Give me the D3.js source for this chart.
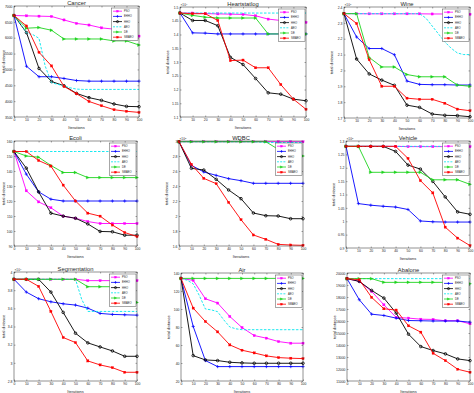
<!DOCTYPE html>
<html><head><meta charset="utf-8">
<script src="https://cdn.jsdelivr.net/npm/d3@7"></script>
<style>body{margin:0;background:#fff}svg{display:block}text{font-family:"Liberation Sans",Arial,sans-serif;fill:#262626}</style>
</head><body><svg id="c" width="474" height="393"></svg>
<script>
const iters = [0,10,20,30,40,50,60,70,80,90,100];
const itersFine = [0,5,10,15,20,25,30,35,40,45,50,55,60,65,70,75,80,85,90,95,100];
const seriesNames = ["PSO","EHHO","HHO","AEO","DE","SMAEO"];
const seriesColors = ["#ff00ff","#0000ff","#000000","#00e5ee","#1ed41e","#ff0000"];
const seriesMarkers = ["square","plus","circle","none","triangle","square"];

// Cancer
const cancerPSO = [6700,6690,6680,6670,6560,6450,6400,6310,6270,6200,6050];
const cancerEHHO = [6700,5100,4770,4770,4715,4650,4630,4630,4630,4630,4630];
const cancerHHO = [6700,6160,5030,4620,4485,4245,4110,4025,3910,3835,3825];
const cancerAEO = [6700,6450,6150,6100,5980,5100,4580,4530,4480,4420,4380,4370,4370,4370,4370,4370,4370,4370,4370,4370,4370];
const cancerDE = [6700,6300,6320,6235,5960,5960,5960,5960,5900,5900,5770];
const cancerSMAEO = [6700,6370,5540,5110,4465,4235,3990,3855,3730,3680,3645];
const cancerTicks = [3500,4000,4500,5000,5500,6000,6500,7000];
// Heartstatlog (x10^4)
const heartPSO = [1.478,1.478,1.476,1.475,1.474,1.473,1.468,1.456,1.451,1.450,1.444];
const heartEHHO = [1.478,1.406,1.405,1.402,1.402,1.402,1.402,1.402,1.402,1.402,1.402];
const heartHHO = [1.478,1.451,1.451,1.432,1.317,1.291,1.240,1.188,1.183,1.165,1.159];
const heartAEO = [1.478,1.478,1.478,1.478,1.478,1.478,1.478,1.478,1.478,1.478,1.478,1.478,1.478,1.478,1.478,1.478,1.478,1.478,1.478,1.478,1.478];
const heartDE = [1.478,1.4695,1.463,1.460,1.460,1.460,1.460,1.402,1.402,1.402,1.402];
const heartSMAEO = [1.478,1.4756,1.4756,1.451,1.305,1.307,1.279,1.279,1.218,1.165,1.128];
const heartTicks = [1.1,1.15,1.2,1.25,1.3,1.35,1.4,1.45,1.5];
// Wine (x10^6)
const winePSO = [2.358,2.358,2.357,2.357,2.357,2.357,2.357,2.356,2.356,2.355,2.354];
const wineEHHO = [2.358,2.211,2.138,2.138,2.099,1.933,1.912,1.910,1.910,1.908,1.908];
const wineHHO = [2.358,2.072,1.978,1.939,1.906,1.781,1.767,1.725,1.717,1.715,1.708];
const wineAEO = [2.358,2.358,2.358,2.358,2.358,2.358,2.358,2.358,2.358,2.358,2.358,2.358,2.358,2.33,2.28,2.23,2.18,2.14,2.11,2.10,2.10];
const wineDE = [2.358,2.358,2.082,2.022,2.022,1.974,1.960,1.960,1.960,1.908,1.900];
const wineSMAEO = [2.358,2.296,2.068,1.900,1.900,1.825,1.818,1.818,1.793,1.756,1.746];
const wineTicks = [1.7,1.8,1.9,2,2.1,2.2,2.3,2.4];
// Ecoli
const ecoliPSO = [153,126.8,119.4,115.5,109.9,108.5,106.3,105,105,105,105];
const ecoliEHHO = [153,137.9,126.1,121.2,120,120,120,120,120,120,120];
const ecoliHHO = [153,141.9,126.1,111.9,109.9,108.5,104.7,99.7,99.5,97.2,97.2];
const ecoliAEO = [153,153,153,153,153,153,153,153,153,153,153,153,153,153,153,153,153,153,153,153,153];
const ecoliDE = [153,150,149.2,143.7,139,139,135.6,135.6,135.6,135.6,135.6];
const ecoliSMAEO = [153,153,147,143.3,130.6,120,111.9,109.9,104,99,96.3];
const ecoliTicks = [90,100,110,120,130,140,150,160];
// WDBC (x10^5)
const wdbcPSO = [2.99,2.99,2.99,2.99,2.99,2.99,2.99,2.99,2.99,2.99,2.99];
const wdbcEHHO = [2.99,2.676,2.587,2.542,2.498,2.471,2.436,2.436,2.436,2.436,2.436];
const wdbcHHO = [2.99,2.636,2.613,2.489,2.347,2.231,2.04,2.004,2.0,1.964,1.964];
const wdbcAEO = [2.99,2.99,2.99,2.99,2.99,2.99,2.99,2.99,2.99,2.99,2.99,2.99,2.99,2.985,2.98,2.98,2.98,2.98,2.98,2.98,2.98];
const wdbcDE = [2.99,2.99,2.99,2.99,2.99,2.99,2.99,2.99,2.89,2.80,2.80];
const wdbcSMAEO = [2.99,2.689,2.502,2.431,2.182,1.951,1.747,1.689,1.622,1.613,1.609];
const wdbcTicks = [1.6,1.8,2,2.2,2.4,2.6,2.8,3];
// Vehicle (x10^5)
const vehPSO = [1.28,1.28,1.28,1.28,1.28,1.279,1.279,1.279,1.279,1.279,1.279];
const vehEHHO = [1.28,1.066,1.06,1.056,1.053,1.044,1.001,0.998,0.997,0.997,0.997];
const vehHHO = [1.28,1.28,1.28,1.28,1.261,1.21,1.195,1.149,1.091,1.035,1.026];
const vehAEO = [1.28,1.28,1.28,1.28,1.28,1.28,1.28,1.28,1.28,1.28,1.28,1.28,1.28,1.28,1.28,1.28,1.28,1.28,1.28,1.28,1.28];
const vehDE = [1.28,1.28,1.183,1.183,1.183,1.183,1.183,1.155,1.155,1.155,1.138];
const vehSMAEO = [1.28,1.28,1.28,1.28,1.28,1.235,1.152,1.106,0.978,0.937,0.909];
const vehTicks = [0.9,0.95,1,1.05,1.1,1.15,1.2,1.25,1.3];
// Segmentation (x10^4)
const segPSO = [3.92,3.92,3.92,3.92,3.92,3.92,3.905,3.905,3.905,3.905,3.905];
const segEHHO = [3.92,3.779,3.706,3.672,3.65,3.636,3.602,3.544,3.533,3.529,3.525];
const segHHO = [3.92,3.92,3.92,3.779,3.555,3.326,3.22,3.175,3.131,3.072,3.072];
const segAEO = [3.92,3.92,3.92,3.92,3.92,3.92,3.92,3.92,3.92,3.92,3.92,3.70,3.566,3.566,3.566,3.566,3.566,3.566,3.566,3.566,3.566];
const segDE = [3.92,3.92,3.92,3.92,3.92,3.92,3.838,3.838,3.838,3.838,3.665];
const segSMAEO = [3.92,3.92,3.842,3.566,3.279,3.223,3.021,2.977,2.947,2.896,2.896];
const segTicks = [2.8,3,3.2,3.4,3.6,3.8,4];
// Air
const airPSO = [134,131.8,111.4,106.6,91.7,79.4,70.5,67.6,63.8,62,62];
const airEHHO = [134,80.6,42.7,36,36,36,36,36,36,36,36];
const airHHO = [134,48.2,43.4,42.7,40.8,40.1,39.7,39.7,39.7,39.7,39.7];
const airAEO = [134,132,128,115,100,99,97,88,80,78,77,77,77,77,77,77,77,77,77,77,77];
const airDE = [134,134,134,134,134,134,134,134,134,134,134];
const airSMAEO = [134,101,86.1,74.6,60.1,54.2,51.2,47.9,46,45.3,44.9];
const airTicks = [20,40,60,80,100,120,140];
// Abalone
const abaPSO = [19530,19300,18470,17350,16300,16240,16150,16130,16020,16020,15770];
const abaEHHO = [19530,17770,16570,16460,16240,16040,16020,16000,16000,16000,15900];
const abaHHO = [19530,19300,18550,17910,16660,14900,13870,13540,13260,12840,12700];
const abaAEO = [19530,19530,19530,19530,19530,19530,19530,19530,19530,19530,19530,19530,19530,19530,19530,19530,19530,19530,19530,19530,19530];
const abaDE = [19530,19530,19530,19220,19220,19220,19220,19220,19220,19220,19110];
const abaSMAEO = [19530,19440,17970,17020,16910,15600,15070,13310,12700,11980,11730];
const abaTicks = [11000,12000,13000,14000,15000,16000,17000,18000,19000,20000];

const panels = [
  {title:"Cancer", box:[14,139,6,117], ticks:cancerTicks, exp:null, s:[cancerPSO,cancerEHHO,cancerHHO,cancerAEO,cancerDE,cancerSMAEO]},
  {title:"Heartstatlog", box:[180,306,7,117], ticks:heartTicks, exp:"4", s:[heartPSO,heartEHHO,heartHHO,heartAEO,heartDE,heartSMAEO]},
  {title:"Wine", box:[344,470,7,118], ticks:wineTicks, exp:"6", s:[winePSO,wineEHHO,wineHHO,wineAEO,wineDE,wineSMAEO]},
  {title:"Ecoli", box:[14,137,141,246], ticks:ecoliTicks, exp:null, s:[ecoliPSO,ecoliEHHO,ecoliHHO,ecoliAEO,ecoliDE,ecoliSMAEO]},
  {title:"WDBC", box:[179,303,141,246], ticks:wdbcTicks, exp:"5", s:[wdbcPSO,wdbcEHHO,wdbcHHO,wdbcAEO,wdbcDE,wdbcSMAEO]},
  {title:"Vehicle", box:[346,470,141,248], ticks:vehTicks, exp:"5", s:[vehPSO,vehEHHO,vehHHO,vehAEO,vehDE,vehSMAEO]},
  {title:"Segmentation", box:[14,137,272,381], ticks:segTicks, exp:"4", s:[segPSO,segEHHO,segHHO,segAEO,segDE,segSMAEO]},
  {title:"Air", box:[181,303,273,381], ticks:airTicks, exp:null, s:[airPSO,airEHHO,airHHO,airAEO,airDE,airSMAEO]},
  {title:"Abalone", box:[347,470,273,381], ticks:abaTicks, exp:null, s:[abaPSO,abaEHHO,abaHHO,abaAEO,abaDE,abaSMAEO]}
];

const svg = d3.select("#c");

function drawMarker(g, type, cx, cy, color, k) {
  k = k || 1;
  if (type === "square") {
    const s = 2.2*k;
    g.append("rect").attr("x",cx-s/2).attr("y",cy-s/2).attr("width",s).attr("height",s).attr("fill",color).attr("stroke",color).attr("stroke-width",0.3);
  } else if (type === "plus") {
    const s = 1.6*k;
    g.append("path").attr("d",`M${cx-s},${cy}H${cx+s}M${cx},${cy-s}V${cy+s}`).attr("stroke",color).attr("stroke-width",0.7).attr("fill","none");
  } else if (type === "circle") {
    g.append("circle").attr("cx",cx).attr("cy",cy).attr("r",1.3*k).attr("fill","none").attr("stroke",color).attr("stroke-width",0.8);
  } else if (type === "triangle") {
    const s = 1.5*k;
    g.append("path").attr("d",`M${cx+s},${cy}L${cx-s},${cy-s}L${cx-s},${cy+s}Z`).attr("fill",color).attr("stroke",color).attr("stroke-width",0.3);
  }
}

panels.forEach(p => {
  const [x0,x1,y0,y1] = p.box;
  const x = d3.scaleLinear().domain([0,100]).range([x0,x1]);
  const yDom = d3.extent(p.ticks);
  const y = d3.scaleLinear().domain(yDom).range([y1,y0]);
  const g = svg.append("g");

  // axes
  const xa = g.append("g").attr("transform",`translate(0,${y1})`)
    .call(d3.axisBottom(x).tickValues(iters).tickSize(-1.5).tickPadding(1.8).tickFormat(d3.format("d")));
  const xt = g.append("g").attr("transform",`translate(0,${y0})`)
    .call(d3.axisTop(x).tickValues(iters).tickSize(-1.5).tickFormat(""));
  const ya = g.append("g").attr("transform",`translate(${x0},0)`)
    .call(d3.axisLeft(y).tickValues(p.ticks).tickSize(-1.5).tickPadding(1.5).tickFormat(d => String(d)));
  const yr = g.append("g").attr("transform",`translate(${x1},0)`)
    .call(d3.axisRight(y).tickValues(p.ticks).tickSize(-1.5).tickFormat(""));
  [xa,xt,ya,yr].forEach(a => {
    a.attr("font-size",3.4).attr("font-family","Liberation Sans, Arial, sans-serif");
    a.select(".domain").remove();
    a.selectAll(".tick line").attr("stroke","#262626").attr("stroke-width",0.4);
    a.selectAll(".tick text").attr("fill","#262626");
  });
  ya.selectAll(".tick text").attr("dy","0.35em");
  xa.selectAll(".tick text").attr("dy","0.75em");

  // lines
  const line = d3.line().x(d => x(d[0])).y(d => y(d[1]));
  p.s.forEach((vals, i) => {
    const xs = (i === 3) ? itersFine : iters;
    const pts = vals.map((v, j) => [xs[j], v]);
    const path = g.append("path").datum(pts).attr("d", line)
      .attr("fill","none").attr("stroke",seriesColors[i]).attr("stroke-width",0.9);
    if (i === 3) path.attr("stroke-dasharray","2.5,1.5");
    if (seriesMarkers[i] !== "none") {
      const mg = g.append("g");
      pts.forEach(d => drawMarker(mg, seriesMarkers[i], x(d[0]), y(d[1]), seriesColors[i]));
    }
  });

  // box
  g.append("rect").attr("x",x0).attr("y",y0).attr("width",x1-x0).attr("height",y1-y0)
    .attr("fill","none").attr("stroke","#262626").attr("stroke-width",0.5);

  // legend
  const lw = 26.5, lh = 32.5;
  const lg = g.append("g").attr("transform",`translate(${x1-lw-1},${y0+2})`);
  lg.append("rect").attr("width",lw).attr("height",lh).attr("fill","#fff").attr("stroke","#262626").attr("stroke-width",0.4);
  seriesNames.forEach((n, i) => {
    const yy = 3.2 + i*5.2;
    const ln = lg.append("line").attr("x1",1.5).attr("x2",10.5).attr("y1",yy).attr("y2",yy)
      .attr("stroke",seriesColors[i]).attr("stroke-width",0.8);
    if (i === 3) ln.attr("stroke-dasharray","2,1.2");
    if (seriesMarkers[i] !== "none") drawMarker(lg, seriesMarkers[i], 6, yy, seriesColors[i], 0.8);
    lg.append("text").attr("x",12.5).attr("y",yy+0.9).attr("font-size",2.7).text(n);
  });

  // title
  g.append("text").attr("x",(x0+x1)/2).attr("y",y0-1).attr("text-anchor","middle")
    .attr("font-size",5.8).attr("fill","#000").text(p.title);
  // x label
  g.append("text").attr("x",(x0+x1)/2).attr("y",y1+11.5).attr("text-anchor","middle")
    .attr("font-size",4).text("Iterations");
  // y label
  const ylx = Math.max(x0 - 11.5, 4.5);
  g.append("text").attr("transform",`translate(${ylx},${(y0+y1)/2}) rotate(-90)`)
    .attr("text-anchor","middle").attr("font-size",4).text("total distance");
  // exponent
  if (p.exp) {
    const t = g.append("text").attr("x",x0+0.5).attr("y",y0-1).attr("font-size",3.2).text("\u00d710");
    t.append("tspan").attr("dy",-1.3).attr("font-size",2.4).text(p.exp);
  }
});
</script>
</body></html>
